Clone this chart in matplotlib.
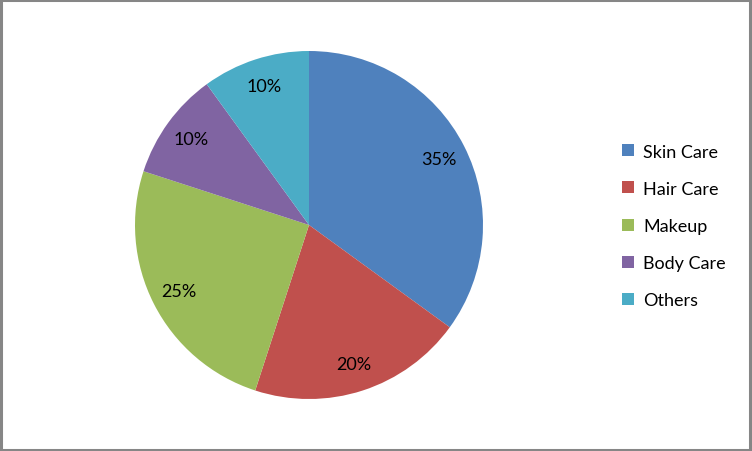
import matplotlib.pyplot as plt
from matplotlib.patches import Rectangle

categorias = ["Skin Care", "Hair Care", "Makeup", "Body Care", "Others"]
valores = [35, 20, 25, 10, 10]
cores = ["#4F81BD", "#C0504D", "#9BBB59", "#8064A2", "#4BACC6"]

plt.rcParams['font.family'] = ['Lato', 'DejaVu Sans']

fig = plt.figure(figsize=(7.52, 4.52), dpi=100)

# moldura cinza em volta do grafico
fig.patches.append(Rectangle((0.0015, 0.002), 0.996, 0.995, transform=fig.transFigure,
                             fill=False, edgecolor='#868686', linewidth=2.2))

ax = fig.add_axes([135 / 752, 52 / 452, 348 / 752, 348 / 452])
fatias, textos, pcts = ax.pie(valores, colors=cores, startangle=90, counterclock=False,
                              autopct='%1.0f%%', pctdistance=0.84,
                              textprops={'fontsize': 13, 'color': '#000000'})
ax.set_xlim(-1, 1)
ax.set_ylim(-1, 1)
ax.set_aspect('equal')

fig.legend(fatias, categorias, loc='center left', bbox_to_anchor=(606 / 752, 0.498),
           frameon=False, fontsize=13, labelspacing=1.17, handlelength=0.65,
           handleheight=0.65, handletextpad=0.5)

plt.savefig("out.png", dpi=100)
